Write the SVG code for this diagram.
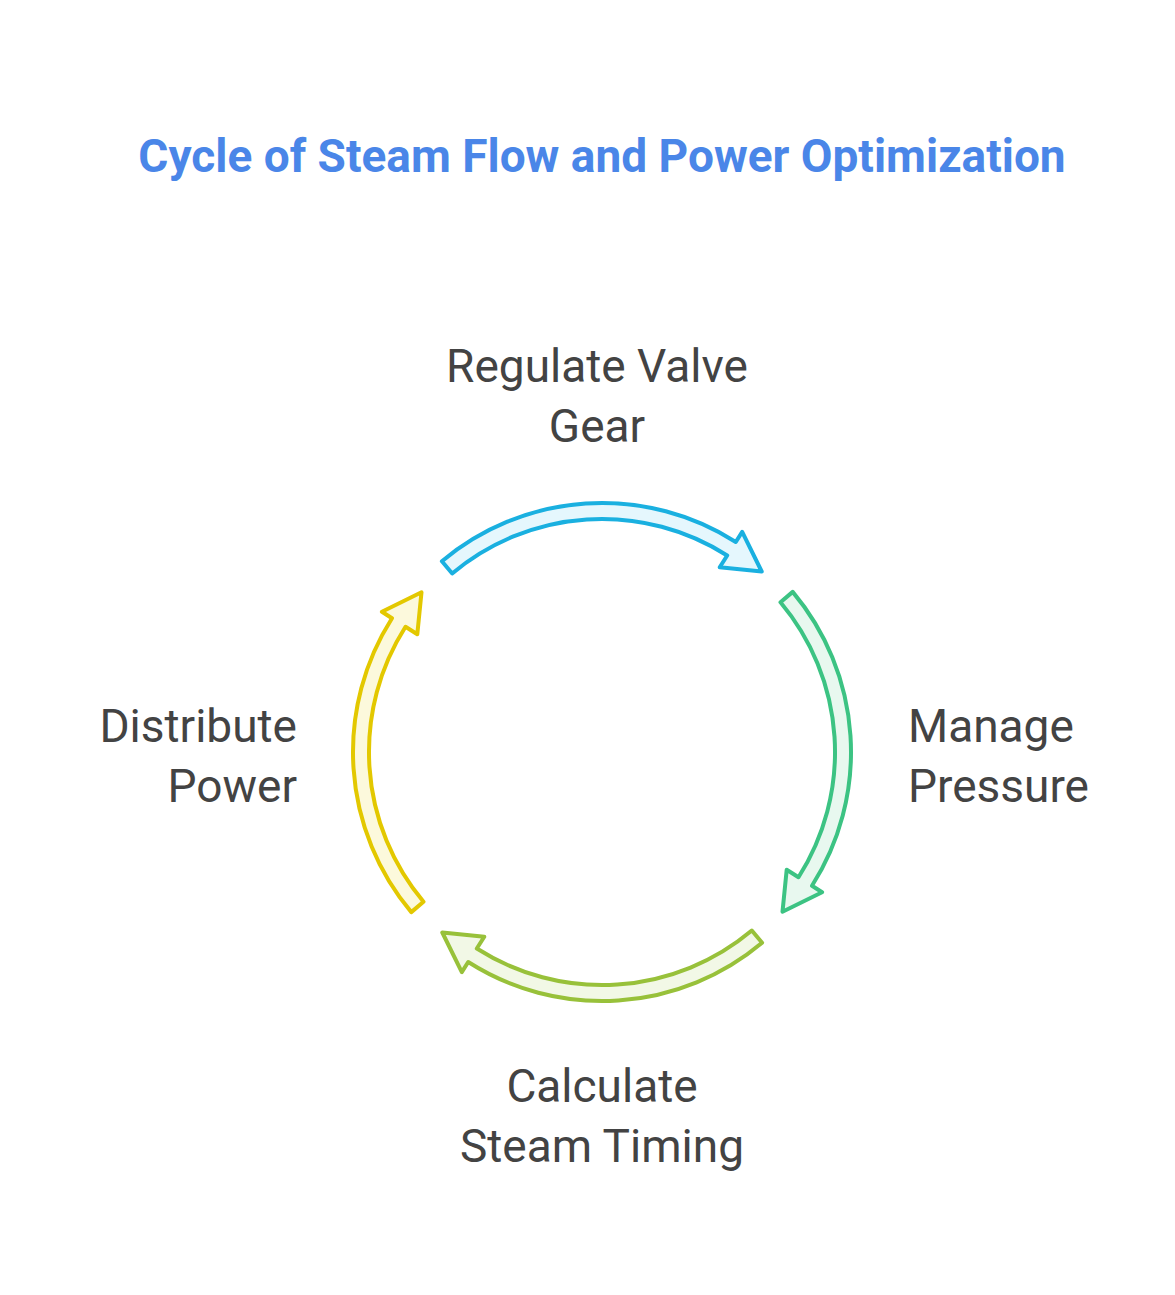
<svg xmlns="http://www.w3.org/2000/svg" width="1175" height="1295" viewBox="0 0 1175 1295">
<style>
.t{font-family:Roboto,"Liberation Sans",sans-serif;font-size:46px;fill:#434343}
.a{stroke-width:4;stroke-linejoin:round}
</style>
<defs><path id="arr" d="M -160.1,-190.7 A 249 249 0 0 1 133.8,-210.0 L 140.2,-220.1 L 159.7,-180.5 L 117.7,-184.7 L 125.2,-196.5 A 233 233 0 0 0 -149.8,-178.5 Z"/></defs>
<rect width="1175" height="1295" fill="#fff"/>
<text x="602" y="172" text-anchor="middle" style="font-family:Roboto,'Liberation Sans',sans-serif;font-weight:bold;font-size:46px;fill:#4A86E8">Cycle of Steam Flow and Power Optimization</text>
<g id="connectors" transform="translate(602,752)">
<use href="#arr" class="a" fill="#E5F7FD" stroke="#1AB0E0"/>
<use href="#arr" class="a" fill="#E8F8EF" stroke="#3CC383" transform="rotate(90)"/>
<use href="#arr" class="a" fill="#F2F8E6" stroke="#98C13A" transform="rotate(180)"/>
<use href="#arr" class="a" fill="#FCF9DC" stroke="#E3C800" transform="rotate(270)"/>
</g>
<g id="regulate"><text class="t" x="597" y="382" text-anchor="middle">Regulate Valve</text><text class="t" x="597" y="442" text-anchor="middle">Gear</text></g>
<g id="manage"><text class="t" x="908" y="742">Manage</text><text class="t" x="908" y="802">Pressure</text></g>
<g id="calculate"><text class="t" x="602" y="1102" text-anchor="middle">Calculate</text><text class="t" x="602" y="1162" text-anchor="middle">Steam Timing</text></g>
<g id="distribute"><text class="t" x="297" y="742" text-anchor="end">Distribute</text><text class="t" x="297" y="802" text-anchor="end">Power</text></g>
</svg>
